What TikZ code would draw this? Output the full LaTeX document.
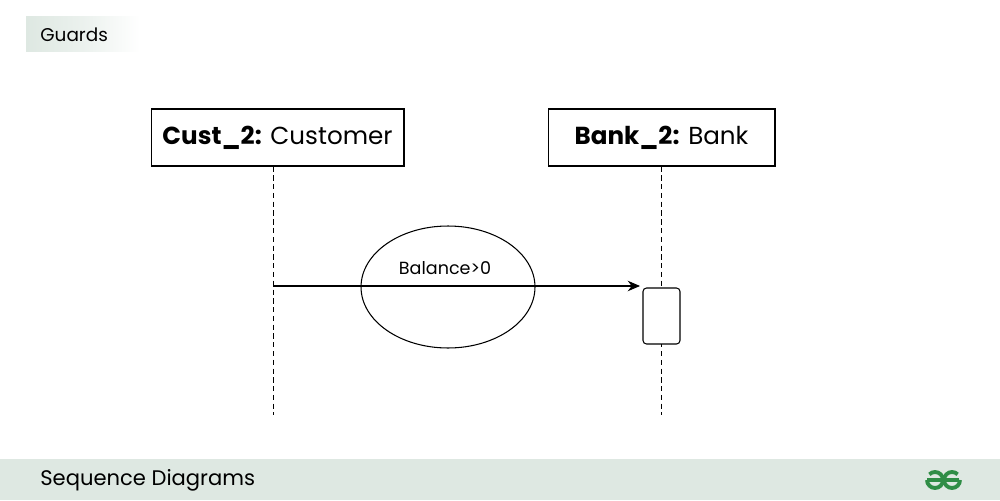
\documentclass[tikz,border=0pt]{standalone}
\usepackage{fontspec}
\setmainfont{Poppins}
\usetikzlibrary{positioning, shapes.geometric, arrows.meta}
\definecolor{band}{RGB}{222, 232, 226}
\definecolor{logo}{RGB}{47, 141, 70}

\begin{document}
\begin{tikzpicture}[x=0.02cm, y=-0.02cm,
    obj/.style={draw, line width=0.6pt, minimum width=#1, minimum height=1.14cm, font=\fontsize{14}{16}\selectfont},
    life/.style={dashed, line width=0.4pt, dash pattern=on 3pt off 2pt},
    msg/.style={-{Stealth[length=7pt, width=6pt]}, line width=0.6pt}]
  \useasboundingbox (0, 0) rectangle (1000, 500);

  % header tag and footer band
  \shade[left color=band, right color=white, middle color=band!60] (26, 17) rectangle (140, 52);
  \node[anchor=west, inner sep=0pt, font=\fontsize{10.5}{12}\selectfont] (tag) at (40, 35) {Guards};
  \fill[band] (0, 459) rectangle (1000, 500);
  \node[anchor=west, inner sep=0pt, font=\fontsize{12}{14}\selectfont] (foot) at (40, 480) {Sequence Diagrams};
  \begin{scope}[logo, line width=2.2pt]
    \draw (927, 480) -- (959, 480);
    \draw (927, 480) arc[start angle=-180, end angle=-495, radius=8];
    \draw (957.66, 474.34) arc[start angle=-45, end angle=-360, radius=8];
  \end{scope}

  % objects
  \node[obj=5.06cm] (cust) at (277.5, 137.5) {\textbf{Cust\_2:} Customer};
  \node[obj=4.54cm] (bank) at (661.5, 137.5) {\textbf{Bank\_2:} Bank};

  \coordinate (custend) at (273, 415);
  \coordinate (bankend) at (661, 415);
  \draw[life] (cust.south -| custend) -- (custend);
  \draw[life] (bank.south -| bankend) -- (bankend);

  % activation and message
  \node[draw, rounded corners=2pt, minimum width=0.74cm, minimum height=1.12cm, fill=white, line width=0.6pt] (act) at (661.5, 316) {};
  \coordinate (src) at (273, 286);
  \draw[msg] (src) -- (640, 286) coordinate (dst);

  % guard
  \node[ellipse, draw, line width=0.6pt, minimum width=3.48cm, minimum height=2.44cm] (guard) at (448, 287) {};
  \node[font=\fontsize{10}{12}\selectfont] (cond) at (445, 268) {Balance>0};
\end{tikzpicture}
\end{document}
